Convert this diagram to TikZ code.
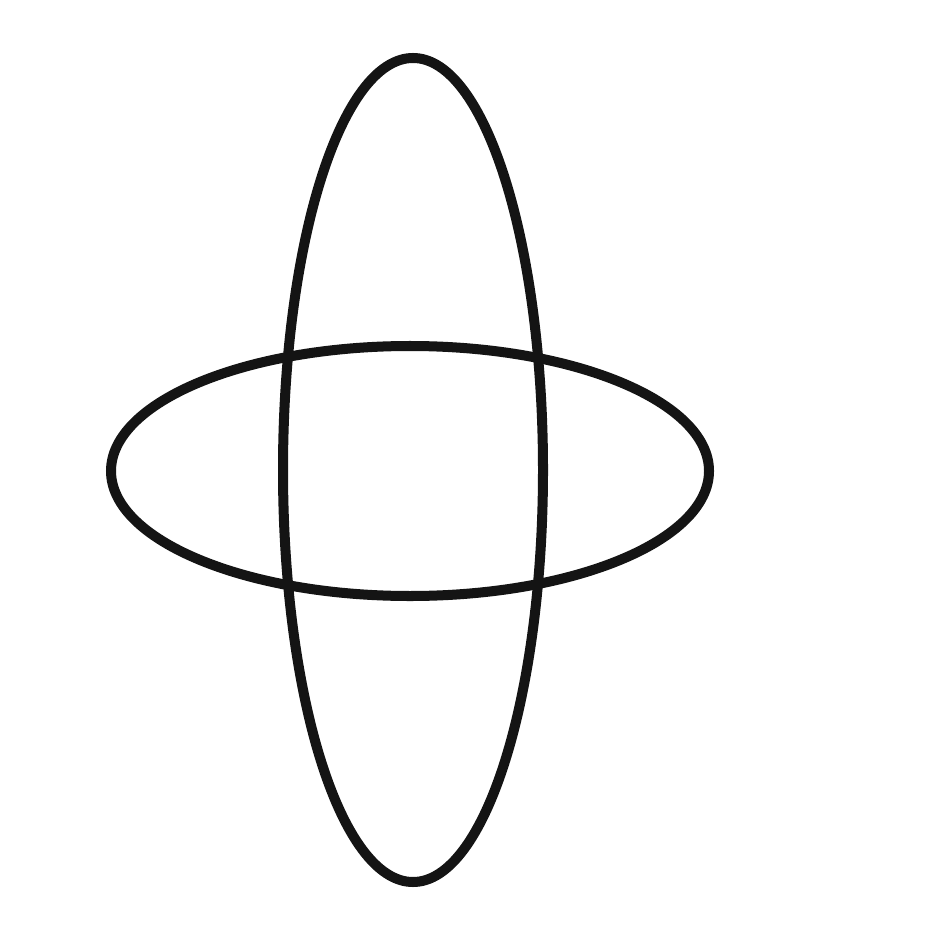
\documentclass[tikz,border=0pt]{standalone}
\begin{document}
\begin{tikzpicture}[x=0.01cm,y=-0.01cm,
  ring/.style={draw=black!92,line width=0.1cm}]
\useasboundingbox[fill=white] (0,0) rectangle (937,946);
\draw[ring] (413,470) ellipse [x radius=130, y radius=412];
\draw[ring] (410,471) ellipse [x radius=299, y radius=125];
\end{tikzpicture}
\end{document}
